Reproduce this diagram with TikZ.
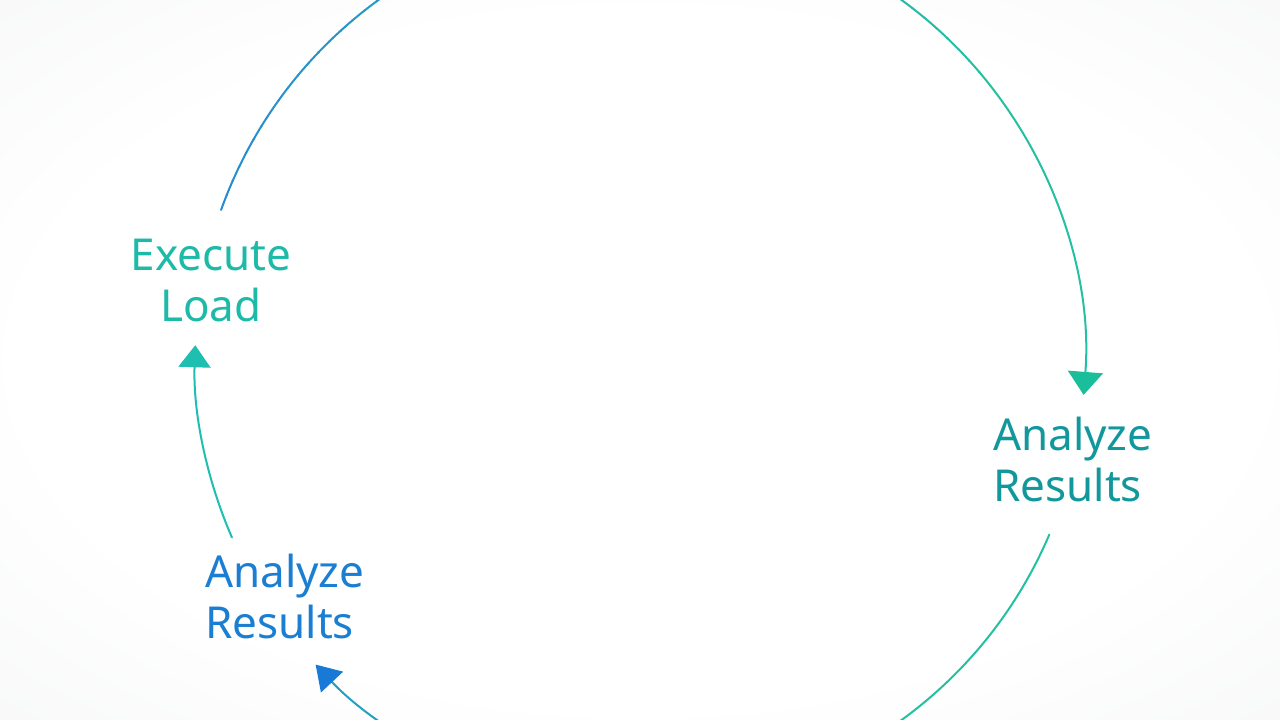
\documentclass[tikz,border=0pt]{standalone}
\usepackage{fontspec}
\setmainfont{Noto Sans}
\usetikzlibrary{arrows.meta}
\definecolor{bgedge}{RGB}{240,241,242}
\definecolor{bgcorner}{RGB}{234,235,236}
\definecolor{tealtxt}{RGB}{29,186,168}
\definecolor{tealdark}{RGB}{18,152,156}
\definecolor{bluetxt}{RGB}{26,127,211}
\definecolor{arcblue}{RGB}{40,138,210}
\definecolor{arcteal}{RGB}{36,192,162}
\definecolor{arrteal}{RGB}{27,190,155}
\definecolor{arrleft}{RGB}{30,190,176}
\definecolor{arrblue}{RGB}{24,122,214}
\definecolor{midblue}{RGB}{38,160,190}
\pgfdeclareradialshading{bgshade}{\pgfpoint{0bp}{0bp}}{color(0bp)=(white);color(24bp)=(white);color(50bp)=(bgedge);color(71bp)=(bgcorner)}
\tikzset{
  arcline/.style={line width=2pt, line cap=round},
  label/.style={inner sep=0pt, font=\fontsize{44}{51}\selectfont}
}
\begin{document}
\begin{tikzpicture}[x=1pt,y=1pt]
\useasboundingbox (0,0) rectangle (1280,720);
\shade[shading=bgshade] (0,0) rectangle (1280,720);
\clip (0,0) rectangle (1280,720);
\coordinate (c) at (640,360);
\def\R{445}
% top arc with colour gradient
\foreach \i in {0,...,59} {
  \pgfmathsetmacro\aa{160.3-\i*2}
  \pgfmathsetmacro\ab{\aa-2.1}
  \pgfmathtruncatemacro\p{\i*100/59}
  \draw[arcline, draw=arcteal!\p!arcblue] (c) ++(\aa:\R) arc[start angle=\aa, end angle=\ab, radius=\R];
}
\draw[arcline, draw=arcteal, -{Triangle[length=23pt,width=35pt,color=arrteal]}]
  (c) ++(40.4:\R) arc[start angle=40.4, end angle=-4.5, radius=\R];
% right-bottom arc
\draw[arcline, draw=arcteal] (c) ++(-23.1:\R) arc[start angle=-23.1, end angle=-75, radius=\R];
% bottom-left arc
\draw[arcline, draw=midblue, -{Triangle[length=24pt,width=30pt,color=arrblue]}]
  (c) ++(-112:\R) arc[start angle=-112, end angle=-136.8, radius=\R];
% left arc
\draw[arcline, draw=arrleft, -{Triangle[length=22pt,width=32pt,color=arrleft]}]
  (c) ++(203.5:\R) arc[start angle=203.5, end angle=178.1, radius=\R];
% labels (anchor base = baseline of the last line)
\node[label, text=tealtxt, align=center, anchor=base] (exec) at (211,398) {Execute\\Load};
\node[label, text=tealdark, align=left, anchor=base west] (ar1) at (993,218) {Analyze\\Results};
\node[label, text=bluetxt, align=left, anchor=base west] (ar2) at (205,81) {Analyze\\Results};
\end{tikzpicture}
\end{document}
